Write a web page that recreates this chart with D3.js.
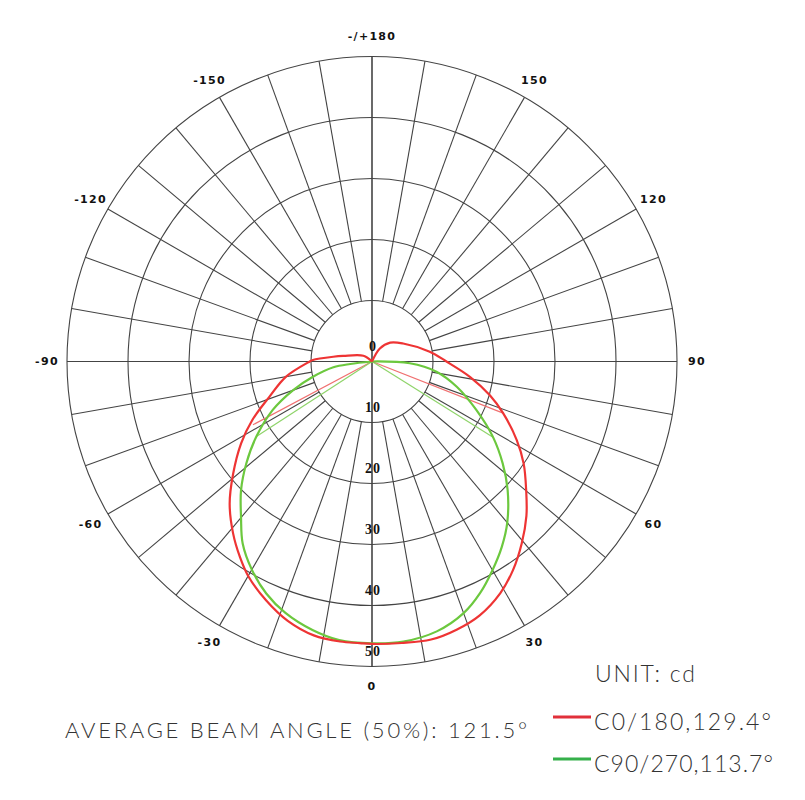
<!DOCTYPE html>
<html>
<head>
<meta charset="utf-8">
<script src="https://cdn.jsdelivr.net/npm/d3@7"></script>
<style>
  body { margin: 0; background: #fff; }
  svg { display: block; }
</style>
</head>
<body>
<svg id="chart" width="805" height="800"></svg>
<script>
// ---- data ----
const ringValues = [10, 20, 30, 40, 50];
const ringLabels = [0, 10, 20, 30, 40, 50];
const angleTicks = [0, 30, 60, 90, 120, 150, 180, -150, -120, -90, -60, -30];
const angleTickLabels = ["0", "30", "60", "90", "120", "150", "-/+180", "-150", "-120", "-90", "-60", "-30"];

// C0/180 plane: [angle (deg, 0 = down, + = right), intensity (cd)]
const c0Angles = [-150, -124, -101, -97, -91.5, -90, -80, -71, -64, -58, -51, -45, -39, -34, -30, -24, -18, -12, -6.5, -2.5, 0, 6, 12, 17.5, 23, 29, 34, 39.5, 45, 50, 56, 61.5, 68.5, 74, 81, 90, 99.6, 120, 136, 149, 170];
const c0Values = [0, 1.7, 4.8, 6.4, 9.7, 10.2, 14.3, 17.8, 21.8, 25.3, 29.3, 33.0, 36.2, 38.7, 40.6, 42.8, 44.7, 45.9, 46.2, 46.2, 46.3, 46.4, 46.6, 46.1, 45.2, 43.4, 41.3, 38.6, 35.8, 33.0, 30.0, 27.0, 23.1, 20.1, 16.3, 12.2, 9.6, 5.9, 4.3, 2.5, 0];

// C90/270 plane
const c90Angles = [-90, -83.5, -81.5, -75.5, -70, -64, -57, -51, -45.5, -40, -35.4, -30, -24.5, -19, -12.5, -6.7, 0, 6.4, 13.5, 20, 25, 30, 35, 40, 46.6, 52, 58, 65, 73.4, 81, 87.3, 90];
const c90Values = [0, 3.6, 6.4, 10.0, 13.8, 18.1, 22.6, 26.5, 30.1, 33.4, 36.6, 39.4, 41.8, 43.6, 45.1, 46.0, 46.2, 46.2, 45.5, 43.9, 41.9, 39.5, 37.1, 34.5, 30.6, 27.2, 23.4, 18.9, 14.5, 10.7, 6.2, 0];

// 50% beam lines
const c0BeamAngles = [-62, 68.5];
const c0BeamValues = [22.1, 23.1];
const c90BeamAngles = [-57, 58];
const c90BeamValues = [22.6, 23.4];

const legendLabels = ["C0/180,129.4°", "C90/270,113.7°"];
const unitLabel = "UNIT: cd";
const beamLabel = "AVERAGE BEAM ANGLE (50%): 121.5°";

// ---- layout ----
const cx = 372, cy = 361.5;
const svg = d3.select("#chart");
const r = d3.scaleLinear().domain([0, 50]).range([0, 305]);
const toRad = a => (180 - a) * Math.PI / 180; // d3 radial angle (0 = up, clockwise)
const deg = Math.PI / 180;
const gridColor = "#444";

const g = svg.append("g").attr("transform", `translate(${cx},${cy})`);

// rings
g.selectAll("circle.ring").data(ringValues).join("circle")
  .attr("class", "ring")
  .attr("r", d => r(d))
  .attr("fill", "none")
  .attr("stroke", gridColor)
  .attr("stroke-width", 1.1);

// spokes (cardinal axes cross the whole plot, the others start at the inner ring)
const spokeAngles = d3.range(-170, 181, 10);
g.selectAll("line.spoke").data(spokeAngles).join("line")
  .attr("class", "spoke")
  .attr("x1", d => (d % 90 === 0 ? -r(50) : r(10)) * Math.sin(d * deg))
  .attr("y1", d => (d % 90 === 0 ? -r(50) : r(10)) * Math.cos(d * deg))
  .attr("x2", d => r(50) * Math.sin(d * deg))
  .attr("y2", d => r(50) * Math.cos(d * deg))
  .attr("stroke", gridColor)
  .attr("stroke-width", 1.1);

// angle labels
g.selectAll("text.ang").data(angleTicks).join("text")
  .attr("class", "ang")
  .attr("x", d => 325 * Math.sin(d * deg))
  .attr("y", d => 325 * Math.cos(d * deg))
  .attr("text-anchor", "middle")
  .attr("dominant-baseline", "central")
  .attr("font-family", "'DejaVu Sans', sans-serif")
  .attr("font-weight", "bold")
  .attr("font-size", 11)
  .attr("letter-spacing", 1.3)
  .attr("fill", "#111")
  .text((d, i) => angleTickLabels[i]);

// ring labels
g.selectAll("text.rl").data(ringLabels).join("text")
  .attr("class", "rl")
  .attr("x", 1)
  .attr("y", d => r(d) - 15.5)
  .attr("text-anchor", "middle")
  .attr("dominant-baseline", "central")
  .attr("font-family", "'Liberation Serif', serif")
  .attr("font-weight", "bold")
  .attr("font-size", 14)
  .attr("letter-spacing", 1)
  .attr("fill", "#111")
  .text(d => d);

// curves
const line = d3.lineRadial()
  .angle(d => toRad(d[0]))
  .radius(d => r(d[1]))
  .curve(d3.curveCatmullRom.alpha(0.5));

const c0Data = c0Angles.map((a, i) => [a, c0Values[i]]);
const c90Data = c90Angles.map((a, i) => [a, c90Values[i]]);

// beam lines
function beamLines(angles, values, color) {
  angles.forEach((a, i) => {
    g.append("path")
      .attr("d", d3.lineRadial().angle(d => toRad(d[0])).radius(d => r(d[1]))([[a, 0], [a, values[i]]]))
      .attr("stroke", color)
      .attr("stroke-width", 1.2)
      .attr("fill", "none");
  });
}
beamLines(c0BeamAngles, c0BeamValues, "#f07070");
beamLines(c90BeamAngles, c90BeamValues, "#8fd46a");

g.append("path").datum(c90Data)
  .attr("d", line)
  .attr("fill", "none")
  .attr("stroke", "#6cc83e")
  .attr("stroke-width", 2.2);

g.append("path").datum(c0Data)
  .attr("d", line)
  .attr("fill", "none")
  .attr("stroke", "#ee3434")
  .attr("stroke-width", 2.2);

// ---- texts / legend ----
const txtFont = "Lato, 'Open Sans', sans-serif";
const txtColor = "#333";

svg.append("text")
  .attr("x", 65).attr("y", 738)
  .attr("font-family", txtFont).attr("font-weight", 300)
  .attr("font-size", 22).attr("fill", txtColor)
  .attr("textLength", 462).attr("lengthAdjust", "spacing")
  .text(beamLabel);

svg.append("text")
  .attr("x", 595).attr("y", 682)
  .attr("font-family", txtFont).attr("font-weight", 300)
  .attr("font-size", 23).attr("fill", txtColor)
  .attr("textLength", 100).attr("lengthAdjust", "spacing")
  .text(unitLabel);

const legendColors = ["#e1303a", "#35b04a"];
const legendY = [717, 759];
const legendLens = [177, 179];
legendLabels.forEach((lab, i) => {
  svg.append("line")
    .attr("x1", 553).attr("x2", 591)
    .attr("y1", legendY[i]).attr("y2", legendY[i])
    .attr("stroke", legendColors[i]).attr("stroke-width", 3);
  svg.append("text")
    .attr("x", 594).attr("y", legendY[i] + 13)
    .attr("font-family", txtFont).attr("font-weight", 300)
    .attr("font-size", 23).attr("fill", txtColor)
    .attr("textLength", legendLens[i]).attr("lengthAdjust", "spacing")
    .text(lab);
});
</script>
</body>
</html>
